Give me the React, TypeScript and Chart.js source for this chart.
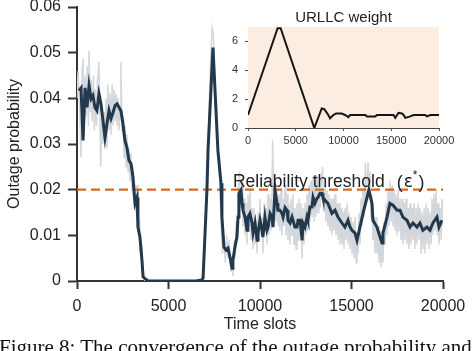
import React, { useEffect, useRef } from "react";
import { Chart, registerables } from "chart.js";
Chart.register(...registerables);

const FONT = '"Liberation Sans", Arial, Helvetica, sans-serif';

// Smoothed outage probability (dark line)
const darkT = [100,220,330,440,550,660,770,870,980,1090,1200,1310,1420,1530,1640,1750,1860,1970,2080,2190,2300,2400,2510,2620,2730,2840,2950,3060,3110,3170,3280,3330,3440,3550,3610,3720,3880,5000,6500,6830,6890,7100,7160,7430,7700,7870,7920,8030,8140,8250,8360,8470,8520,8630,8740,8800,8850,8960,9020,9070,9180,9290,9340,9450,9560,9620,9730,9840,9890,10000,10110,10160,10270,10380,10440,10550,10660,10710,10820,10930,10980,11090,11200,11260,11370,11480,11530,11640,11750,11800,11910,12020,12080,12190,12300,12350,12460,12570,12620,12730,12840,12900,13000,13110,13170,13280,13390,13440,13550,13710,13930,14100,14260,14480,14640,14810,14920,15030,15190,15300,15460,15630,15850,15950,16120,16170,16390,16560,16670,16720,16940,17100,17270,17490,17650,17810,18030,18200,18360,18580,18740,18900,19120,19290,19450,19670,19780,19940];
const darkV = [0.0417,0.0423,0.0308,0.0423,0.0380,0.0428,0.0399,0.0406,0.0380,0.0373,0.0410,0.0388,0.0351,0.0314,0.0345,0.0373,0.0356,0.0369,0.0384,0.0388,0.0380,0.0373,0.0345,0.0308,0.0292,0.0264,0.0257,0.0227,0.0199,0.0170,0.0183,0.0118,0.0096,0.0046,0.0009,0.0005,0,0,0,0.0002,0.0007,0.0199,0.0286,0.0511,0.0286,0.0214,0.0140,0.0074,0.0068,0.0072,0.0052,0.0028,0.0046,0.0074,0.0096,0.0140,0.0192,0.0199,0.0170,0.0155,0.0140,0.0111,0.0140,0.0148,0.0127,0.0105,0.0127,0.0089,0.0105,0.0133,0.0111,0.0096,0.0140,0.0111,0.0118,0.0148,0.0140,0.0118,0.0199,0.0170,0.0155,0.0155,0.0148,0.0140,0.0161,0.0155,0.0133,0.0127,0.0140,0.0140,0.0118,0.0118,0.0133,0.0133,0.0089,0.0127,0.0118,0.0140,0.0133,0.0162,0.0162,0.0183,0.0170,0.0181,0.0183,0.0192,0.0192,0.0183,0.0177,0.0170,0.0148,0.0155,0.0140,0.0127,0.0118,0.0133,0.0118,0.0111,0.0105,0.0089,0.0118,0.0148,0.0183,0.0199,0.0170,0.0133,0.0118,0.0096,0.0083,0.0105,0.0140,0.0170,0.0166,0.0155,0.0155,0.0140,0.0133,0.0118,0.0127,0.0118,0.0127,0.0111,0.0118,0.0111,0.0127,0.0140,0.0118,0.0133];

// Raw (noisy) outage probability (grey line), [time slot, value]
const greyPoints: [number, number][] = [
  [0,0.040],[60,0.046],[160,0.036],[220,0.027],[280,0.046],[330,0.0487],[390,0.033],[440,0.045],[500,0.036],[560,0.047],
  [620,0.034],[660,0.0504],[720,0.037],[780,0.044],[830,0.035],[900,0.045],[950,0.033],[1000,0.042],[1060,0.034],[1120,0.044],
  [1200,0.048],[1250,0.036],[1300,0.025],[1360,0.038],[1420,0.030],[1480,0.037],[1530,0.031],[1590,0.040],[1640,0.029],[1700,0.043],
  [1750,0.033],[1810,0.041],[1860,0.032],[1920,0.043],[1970,0.034],[2030,0.042],[2080,0.035],[2140,0.041],[2190,0.034],[2250,0.040],
  [2300,0.033],[2360,0.038],[2400,0.048],[2460,0.033],[2510,0.036],[2570,0.027],[2620,0.034],[2680,0.025],[2730,0.032],[2790,0.024],
  [2840,0.029],[2900,0.022],[2950,0.028],[3010,0.020],[3060,0.025],[3110,0.017],[3170,0.021],[3220,0.015],[3280,0.021],[3330,0.012],
  [3390,0.013],[3440,0.007],[3500,0.008],[3550,0.003],[3610,0.002],[3700,0],[6800,0],
  [6900,0.002],[7000,0.010],[7100,0.022],[7200,0.035],[7300,0.048],[7380,0.0555],[7450,0.054],[7520,0.045],[7600,0.035],[7700,0.028],
  [7800,0.022],[7880,0.012],[7950,0.006],[8030,0.010],[8100,0.004],[8180,0.010],[8250,0.005],[8320,0.009],[8400,0.002],[8470,0.004],
  [8520,0.001],[8580,0.009],[8640,0.005],[8700,0.013],[8760,0.009],[8820,0.021],[8880,0.024],[8950,0.016],[9020,0.022],[9070,0.012],
  [9130,0.018],[9180,0.010],[9240,0.017],[9290,0.008],[9350,0.019],[9400,0.012],[9460,0.020],[9510,0.009],[9570,0.016],[9620,0.007],
  [9680,0.016],[9730,0.008],[9790,0.013],[9840,0.006],[9900,0.015],[9950,0.009],[10000,0.018],[10060,0.010],[10110,0.014],[10160,0.006],
  [10220,0.017],[10270,0.011],[10330,0.016],[10380,0.008],[10440,0.019],[10490,0.010],[10550,0.018],[10600,0.011],[10640,0.016],[10690,0.031],
  [10770,0.012],[10820,0.022],[10880,0.013],[10930,0.020],[10990,0.012],[11040,0.019],[11090,0.011],[11150,0.020],[11200,0.010],[11260,0.018],
  [11310,0.012],[11370,0.021],[11420,0.010],[11480,0.019],[11530,0.009],[11590,0.017],[11640,0.008],[11700,0.018],[11750,0.010],[11800,0.019],
  [11860,0.008],[11910,0.016],[11970,0.007],[12020,0.017],[12080,0.009],[12130,0.018],[12190,0.010],[12240,0.017],[12300,0.005],[12350,0.016],
  [12410,0.008],[12460,0.017],[12520,0.010],[12570,0.019],[12620,0.011],[12680,0.021],[12730,0.013],[12790,0.022],[12840,0.014],[12900,0.023],
  [12950,0.013],[13000,0.022],[13060,0.014],[13110,0.023],[13170,0.015],[13220,0.022],[13280,0.016],[13340,0.021],[13420,0.025],[13470,0.015],
  [13550,0.021],[13600,0.013],[13660,0.020],[13710,0.012],[13770,0.019],[13820,0.011],[13880,0.018],[13930,0.010],[13990,0.018],[14040,0.011],
  [14100,0.019],[14150,0.010],[14210,0.017],[14260,0.009],[14320,0.017],[14370,0.008],[14430,0.016],[14480,0.008],[14540,0.015],[14590,0.007],
  [14650,0.016],[14700,0.009],[14760,0.017],[14810,0.008],[14870,0.015],[14920,0.007],[14980,0.014],[15030,0.006],[15090,0.013],[15140,0.005],
  [15200,0.014],[15250,0.004],[15300,0.010],[15360,0.006],[15410,0.015],[15470,0.008],[15520,0.018],[15580,0.012],[15630,0.020],[15690,0.014],
  [15760,0.026],[15800,0.017],[15850,0.022],[15910,0.026],[15960,0.018],[16010,0.024],[16070,0.014],[16120,0.019],[16170,0.009],[16230,0.014],
  [16280,0.006],[16340,0.014],[16390,0.006],[16450,0.012],[16500,0.004],[16560,0.011],[16610,0.003],[16670,0.009],[16720,0.004],[16780,0.013],
  [16830,0.008],[16890,0.017],[16940,0.010],[17000,0.020],[17050,0.012],[17110,0.022],[17160,0.013],[17220,0.021],[17270,0.012],[17330,0.020],
  [17380,0.011],[17440,0.019],[17490,0.010],[17550,0.020],[17600,0.011],[17650,0.018],[17710,0.009],[17760,0.018],[17810,0.008],[17870,0.017],
  [17920,0.009],[17980,0.018],[18030,0.008],[18090,0.016],[18140,0.007],[18200,0.017],[18250,0.008],[18310,0.016],[18360,0.009],[18420,0.017],
  [18470,0.007],[18530,0.016],[18580,0.008],[18640,0.017],[18690,0.009],[18750,0.016],[18800,0.006],[18860,0.015],[18910,0.007],[18970,0.016],
  [19020,0.006],[19080,0.017],[19130,0.008],[19190,0.016],[19240,0.007],[19290,0.015],[19350,0.008],[19400,0.018],[19460,0.010],[19510,0.019],
  [19570,0.011],[19620,0.020],[19680,0.010],[19730,0.017],[19780,0.008],[19840,0.016],[19900,0.009],[19950,0.018],[20000,0.012]
];

// URLLC weight (inset)
const weightT = [0,3100,3420,6940,7720,7990,8410,8590,8940,9220,9810,10160,10520,10690,12290,12460,13330,13500,15240,15420,15770,16120,16290,16470,16990,17340,18560,18740,19090,20000];
const weightV = [0.9,6.9,6.9,0,1.35,1.3,0.9,0.67,0.9,1.0,1.0,0.9,0.75,0.9,0.9,0.8,0.8,0.9,0.9,0.7,1.05,1.0,0.9,0.7,0.8,0.9,0.9,0.8,0.9,0.9];

const thresholdValue = 0.02;
const thresholdLabel = "Reliability threshold";
const labelAtT = 8520;
const caption = "Figure 8: The convergence of the outage probability and URLLC";

export default function App() {
  const mainRef = useRef<HTMLCanvasElement>(null);
  const insetRef = useRef<HTMLCanvasElement>(null);

  useEffect(() => {
    document.body.style.margin = "0";

    const labelPlugin = {
      id: "thresholdLabel",
      afterDatasetsDraw(chart: any) {
        const { ctx, scales } = chart;
        const x = scales.x.getPixelForValue(labelAtT);
        const y = scales.y.getPixelForValue(thresholdValue) - 2.5;
        ctx.save();
        ctx.fillStyle = "#222";
        ctx.textBaseline = "alphabetic";
        ctx.textAlign = "left";
        ctx.font = `17.5px ${FONT}`;
        ctx.fillText(thresholdLabel, x, y);
        let cx = x + ctx.measureText(thresholdLabel).width + 12;
        ctx.font = `18px ${FONT}`;
        ctx.fillText("(", cx, y + 1);
        cx += ctx.measureText("(").width + 1;
        ctx.font = `17px "DejaVu Sans", ${FONT}`;
        ctx.fillText("\u03b5", cx, y);
        cx += ctx.measureText("\u03b5").width;
        ctx.font = `12px ${FONT}`;
        ctx.fillText("*", cx, y - 8);
        cx += ctx.measureText("*").width + 1;
        ctx.font = `18px ${FONT}`;
        ctx.fillText(")", cx, y + 1);
        ctx.restore();
      },
    };

    const main = new Chart(mainRef.current!, {
      type: "line",
      data: {
        datasets: [
          {
            data: darkT.map((t, i) => ({ x: t, y: darkV[i] })),
            borderColor: "#22384d",
            borderWidth: 3,
            pointRadius: 0,
            tension: 0,
          },
          {
            data: [
              { x: 0, y: thresholdValue },
              { x: 20000, y: thresholdValue },
            ],
            borderColor: "#d6691f",
            borderWidth: 2.4,
            borderDash: [9, 5],
            pointRadius: 0,
          },
          {
            data: greyPoints.map(([t, v]) => ({ x: t, y: v })),
            borderColor: "#d3d7db",
            borderWidth: 1.5,
            pointRadius: 0,
            tension: 0,
          },
        ],
      },
      options: {
        responsive: false,
        animation: false,
        devicePixelRatio: 1,
        layout: { padding: { left: 0, right: 31, top: 7, bottom: 0 } },
        plugins: { legend: { display: false }, tooltip: { enabled: false }, title: { display: false } },
        scales: {
          x: {
            type: "linear",
            min: 0,
            max: 20000,
            ticks: {
              stepSize: 5000,
              font: { size: 16, family: FONT },
              color: "#222",
              padding: 8,
              maxRotation: 0,
              autoSkip: false,
              callback: (v: any) => String(v),
            },
            grid: { drawOnChartArea: false, drawTicks: true, tickLength: 8, tickColor: "#333", tickWidth: 2 },
            border: { display: true, color: "#333", width: 2 },
            title: {
              display: true,
              text: "Time slots",
              font: { size: 16, family: FONT },
              color: "#222",
              padding: { top: 0, bottom: 17 },
            },
            afterFit: (s: any) => {
              s.height = 70;
              s.paddingLeft = 0;
              s.paddingRight = 0;
            },
          },
          y: {
            type: "linear",
            min: 0,
            max: 0.06,
            ticks: {
              stepSize: 0.01,
              font: { size: 16, family: FONT },
              color: "#222",
              padding: 7,
              callback: (v: any) => (Number(v) === 0 ? "0" : Number(v).toFixed(2)),
            },
            grid: { drawOnChartArea: false, drawTicks: true, tickLength: 9, tickColor: "#333", tickWidth: 2 },
            border: { display: true, color: "#333", width: 2 },
            title: {
              display: true,
              text: "Outage probability",
              font: { size: 16, family: FONT },
              color: "#222",
              padding: { top: 5, bottom: 0 },
            },
            afterFit: (s: any) => {
              s.width = 77;
              s.paddingTop = 0;
              s.paddingBottom = 0;
            },
          },
        },
      },
      plugins: [labelPlugin],
    } as any);

    const bgPlugin = {
      id: "insetBg",
      beforeDraw(chart: any) {
        const { ctx, chartArea } = chart;
        ctx.save();
        ctx.fillStyle = "#fbede2";
        ctx.fillRect(chartArea.left, chartArea.top, chartArea.right - chartArea.left, chartArea.bottom - chartArea.top);
        ctx.restore();
      },
    };

    const inset = new Chart(insetRef.current!, {
      type: "line",
      data: {
        datasets: [
          {
            data: weightT.map((t, i) => ({ x: t, y: weightV[i] })),
            borderColor: "#151515",
            borderWidth: 2,
            pointRadius: 0,
            tension: 0,
          },
        ],
      },
      options: {
        responsive: false,
        animation: false,
        devicePixelRatio: 1,
        layout: { padding: { left: 0, right: 21, top: 0, bottom: 0 } },
        plugins: {
          legend: { display: false },
          tooltip: { enabled: false },
          title: {
            display: true,
            text: "URLLC weight",
            font: { size: 15, family: FONT, weight: "normal" },
            color: "#222",
            fullSize: false,
            padding: { top: 8.5, bottom: 0.2 },
          },
        },
        scales: {
          x: {
            type: "linear",
            min: 0,
            max: 20000,
            ticks: {
              stepSize: 5000,
              font: { size: 11, family: FONT },
              color: "#333",
              padding: 3,
              maxRotation: 0,
              autoSkip: false,
              callback: (v: any) => String(v),
            },
            grid: { drawOnChartArea: false, drawTicks: true, tickLength: 3, tickColor: "#555", tickWidth: 1 },
            border: { display: true, color: "#444", width: 1 },
            afterFit: (s: any) => {
              s.height = 32;
              s.paddingLeft = 0;
              s.paddingRight = 0;
            },
          },
          y: {
            type: "linear",
            min: 0,
            max: 7,
            ticks: {
              stepSize: 2,
              includeBounds: false,
              font: { size: 11, family: FONT },
              color: "#333",
              padding: 7,
              callback: (v: any) => String(v),
            },
            grid: { drawOnChartArea: false, drawTicks: true, tickLength: 3, tickColor: "#555", tickWidth: 1 },
            border: { display: false },
            afterFit: (s: any) => {
              s.width = 18;
              s.paddingTop = 0;
              s.paddingBottom = 0;
            },
          },
        },
      },
      plugins: [bgPlugin],
    } as any);

    return () => {
      main.destroy();
      inset.destroy();
    };
  }, []);

  return (
    <div style={{ position: "relative", width: 474, height: 351, overflow: "hidden", background: "#fff" }}>
      <canvas ref={mainRef} width={474} height={351} style={{ position: "absolute", left: 0, top: 0 }} />
      <canvas ref={insetRef} width={230} height={160} style={{ position: "absolute", left: 230, top: 0 }} />
      <div
        style={{
          position: "absolute",
          left: -1,
          top: 337,
          fontFamily: '"Liberation Serif", "Times New Roman", serif',
          fontSize: 21,
          lineHeight: "21px",
          whiteSpace: "nowrap",
          color: "#111",
        }}
      >
        {caption}
      </div>
    </div>
  );
}
